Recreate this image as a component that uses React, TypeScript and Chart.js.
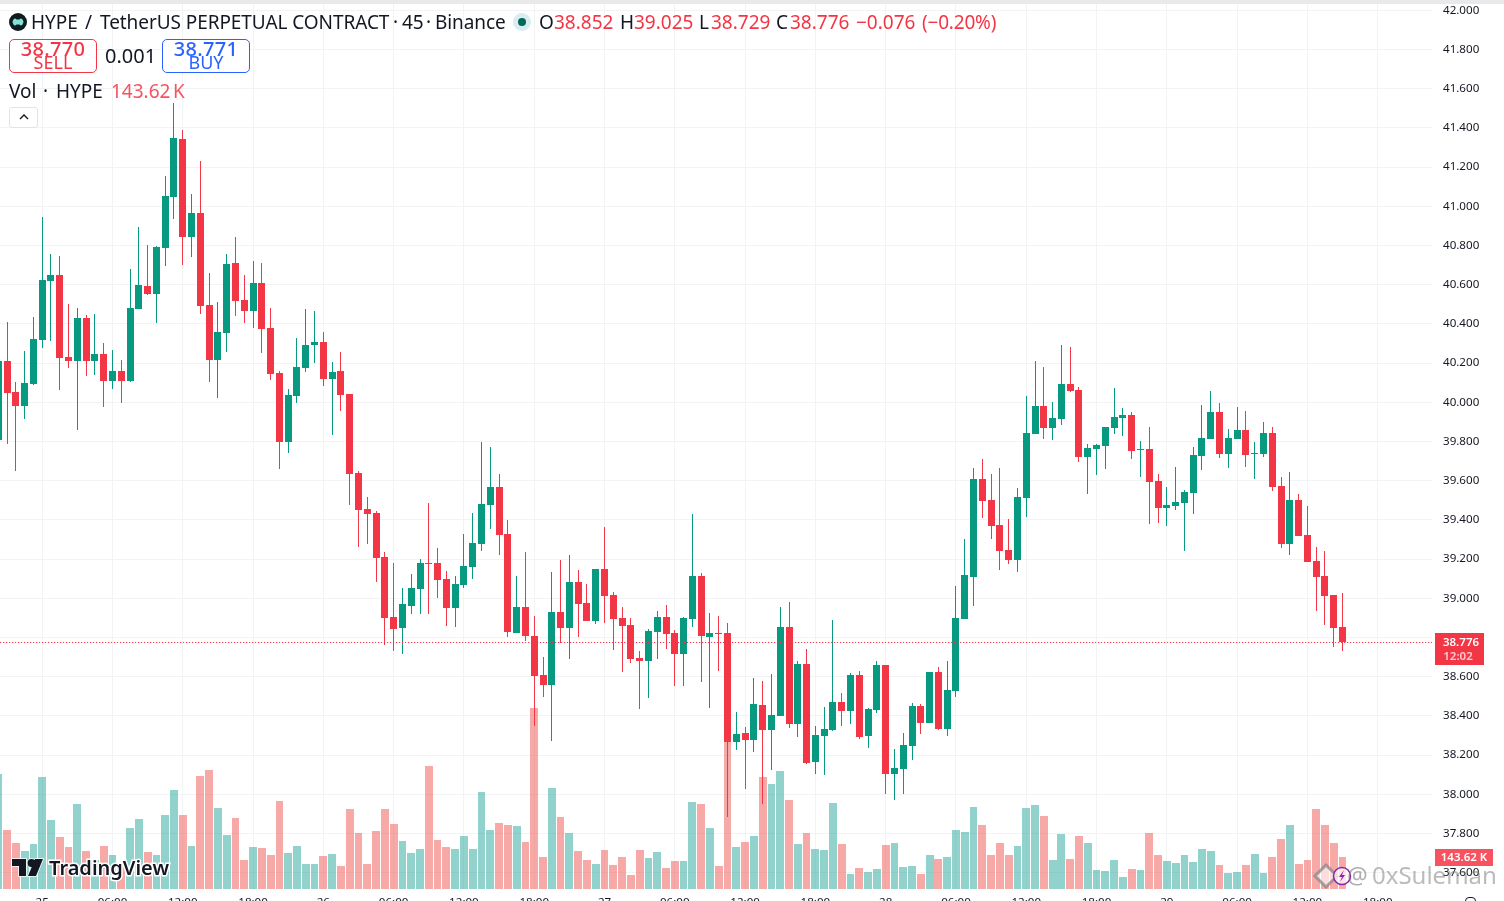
import { useEffect, useRef } from "react";
import { Chart, registerables } from "chart.js";

Chart.register(...registerables);

// 45 minute candles, index 0 is the partly hidden bar on the left edge
const opens = [
  39.808, 40.211, 40.053, 39.981, 40.093, 40.318, 40.619, 40.649, 40.231, 40.211,
  40.43, 40.211, 40.246, 40.109, 40.16, 40.109, 40.476, 40.593, 40.552, 40.787,
  41.047, 41.343, 40.843, 40.966, 40.496, 40.216, 40.354, 40.711, 40.522, 40.466,
  40.609, 40.379, 40.15, 39.798, 40.032, 40.175, 40.292, 40.308, 40.119, 40.16,
  40.042, 39.639, 39.456, 39.435, 39.211, 38.905, 38.849, 38.961, 39.048, 39.18,
  39.18, 39.099, 38.951, 39.068, 39.16, 39.277, 39.476, 39.568, 39.328, 38.823,
  38.956, 38.808, 38.609, 38.558, 38.93, 38.849, 39.083, 38.976, 38.884, 39.15,
  39.017, 38.9, 38.864, 38.695, 38.68, 38.828, 38.905, 38.823, 38.716, 38.895,
  39.114, 38.803, 38.823, 38.823, 38.267, 38.313, 38.277, 38.456, 38.328, 38.4,
  38.854, 38.359, 38.665, 38.165, 38.298, 38.328, 38.471, 38.425, 38.609, 38.298,
  38.43, 38.66, 38.104, 38.129, 38.246, 38.451, 38.364, 38.624, 38.333, 38.527,
  38.895, 39.109, 39.609, 39.502, 39.374, 39.247, 39.195, 39.512, 39.838, 39.981,
  39.869, 39.915, 40.093, 40.063, 39.721, 39.762, 39.777, 39.869, 39.92, 39.935,
  39.757, 39.762, 39.598, 39.461, 39.471, 39.486, 39.537, 39.726, 39.813, 39.951,
  39.736, 39.813, 39.859, 39.736, 39.736, 39.843, 39.573, 39.277, 39.502, 39.323,
  39.19, 39.114, 39.017, 38.852,
];
const highs = [
  40.292, 40.41, 40.104, 40.262, 40.435, 40.945, 40.757, 40.747, 40.501, 40.481,
  40.445, 40.45, 40.303, 40.267, 40.216, 40.68, 40.894, 40.803, 40.798, 41.155,
  41.527, 41.389, 41.063, 41.231, 40.66, 40.512, 40.757, 40.843, 40.649, 40.721,
  40.711, 40.481, 40.16, 40.068, 40.328, 40.476, 40.466, 40.359, 40.206, 40.257,
  40.042, 39.649, 39.517, 39.445, 39.236, 39.18, 39.053, 39.124, 39.201, 39.486,
  39.257, 39.139, 39.114, 39.328, 39.435, 39.798, 39.772, 39.634, 39.4, 39.114,
  39.236, 38.91, 38.701, 39.134, 39.195, 39.221, 39.145, 39.073, 39.15, 39.364,
  39.032, 38.956, 38.9, 38.731, 38.843, 38.935, 38.966, 38.838, 38.905, 39.43,
  39.129, 38.925, 38.91, 38.874, 38.42, 38.344, 38.593, 38.578, 38.614, 38.956,
  38.981, 38.68, 38.741, 38.349, 38.445, 38.889, 38.517, 38.619, 38.629, 38.44,
  38.68, 38.66, 38.231, 38.313, 38.466, 38.461, 38.624, 38.65, 38.68, 39.063,
  39.303, 39.665, 39.711, 39.634, 39.665, 39.405, 39.563, 40.032, 40.211, 40.18,
  40.002, 40.292, 40.282, 40.078, 39.787, 39.787, 39.874, 40.073, 39.971, 39.951,
  39.803, 39.874, 39.634, 39.568, 39.67, 39.553, 39.772, 39.986, 40.058, 39.996,
  39.864, 39.976, 39.956, 39.798, 39.899, 39.874, 39.619, 39.644, 39.532, 39.471,
  39.262, 39.241, 39.017, 39.025,
];
const lows = [
  39.782, 39.787, 39.649, 39.915, 40.088, 40.277, 40.313, 40.063, 40.175, 39.859,
  40.134, 40.139, 39.976, 40.068, 39.996, 40.104, 40.476, 40.547, 40.405, 40.696,
  40.935, 40.701, 40.741, 40.45, 40.104, 40.022, 40.257, 40.44, 40.405, 40.379,
  40.252, 40.114, 39.66, 39.741, 39.996, 40.155, 40.2, 40.083, 39.833, 39.956,
  39.476, 39.262, 39.277, 39.083, 38.762, 38.731, 38.716, 38.92, 38.92, 38.92,
  39.002, 38.859, 38.854, 39.053, 39.099, 39.241, 39.354, 39.221, 38.803, 38.823,
  38.782, 38.349, 38.497, 38.272, 38.772, 38.69, 38.803, 38.884, 38.869, 38.874,
  38.736, 38.624, 38.67, 38.435, 38.491, 38.69, 38.741, 38.553, 38.553, 38.854,
  38.573, 38.44, 38.629, 37.884, 38.226, 38.027, 38.216, 37.95, 38.124, 38.4,
  38.338, 38.292, 38.155, 38.104, 38.099, 38.323, 38.349, 38.359, 38.282, 38.236,
  38.415, 38.002, 37.971, 38.002, 38.175, 38.308, 38.364, 38.328, 38.298, 38.497,
  38.895, 38.961, 39.41, 39.303, 39.145, 39.175, 39.134, 39.415, 39.838, 39.813,
  39.808, 39.884, 40.053, 39.695, 39.532, 39.629, 39.66, 39.838, 39.828, 39.711,
  39.619, 39.379, 39.384, 39.369, 39.451, 39.241, 39.43, 39.655, 39.813, 39.716,
  39.665, 39.813, 39.67, 39.609, 39.721, 39.548, 39.257, 39.221, 39.318, 39.185,
  38.935, 38.864, 38.752, 38.729,
];
const closes = [
  40.211, 40.048, 39.981, 40.098, 40.323, 40.624, 40.649, 40.226, 40.211, 40.43,
  40.211, 40.246, 40.109, 40.16, 40.109, 40.481, 40.598, 40.552, 40.792, 41.053,
  41.348, 40.843, 40.966, 40.491, 40.216, 40.359, 40.706, 40.517, 40.466, 40.609,
  40.374, 40.144, 39.798, 40.037, 40.18, 40.292, 40.308, 40.119, 40.155, 40.037,
  39.634, 39.451, 39.43, 39.206, 38.9, 38.843, 38.971, 39.053, 39.18, 39.175,
  39.093, 38.951, 39.073, 39.165, 39.282, 39.481, 39.568, 39.323, 38.828, 38.956,
  38.808, 38.604, 38.558, 38.93, 38.849, 39.083, 38.971, 38.884, 39.15, 39.012,
  38.895, 38.859, 38.69, 38.68, 38.833, 38.905, 38.818, 38.716, 38.9, 39.114,
  38.808, 38.823, 38.818, 38.267, 38.308, 38.277, 38.461, 38.328, 38.405, 38.854,
  38.359, 38.665, 38.16, 38.303, 38.333, 38.471, 38.425, 38.609, 38.292, 38.435,
  38.66, 38.104, 38.134, 38.252, 38.451, 38.364, 38.624, 38.333, 38.532, 38.9,
  39.119, 39.609, 39.497, 39.369, 39.241, 39.195, 39.517, 39.843, 39.981, 39.869,
  39.92, 40.093, 40.058, 39.721, 39.767, 39.782, 39.874, 39.925, 39.935, 39.752,
  39.762, 39.593, 39.461, 39.476, 39.491, 39.542, 39.731, 39.818, 39.951, 39.736,
  39.818, 39.859, 39.731, 39.741, 39.843, 39.568, 39.277, 39.502, 39.318, 39.185,
  39.109, 39.012, 38.849, 38.776,
];
// volume in thousands of HYPE
const volumes = [
  516, 265, 206, 171, 202, 503, 310, 233, 188, 381,
  171, 130, 193, 153, 112, 274, 314, 166, 153, 332,
  444, 332, 193, 507, 534, 364, 242, 319, 130, 188,
  184, 153, 395, 162, 193, 112, 112, 148, 157, 103,
  359, 251, 112, 260, 359, 292, 215, 162, 180, 552,
  220, 188, 180, 238, 180, 435, 265, 296, 287, 283,
  211, 812, 144, 453, 323, 251, 171, 130, 112, 175,
  108, 144, 63, 175, 139, 166, 94, 126, 126, 390,
  381, 274, 103, 992, 188, 211, 238, 503, 471, 530,
  399, 202, 251, 180, 175, 386, 202, 67, 94, 76,
  90, 197, 206, 99, 103, 67, 153, 135, 144, 265,
  256, 368, 287, 153, 206, 153, 193, 364, 377, 328,
  130, 247, 135, 238, 206, 85, 81, 130, 54, 90,
  85, 251, 153, 126, 117, 153, 121, 180, 171, 108,
  72, 76, 108, 157, 72, 144, 224, 287, 112, 130,
  359, 287, 206, 143.62,
];
const priceTicks = [
  37.6, 37.8, 38, 38.2, 38.4, 38.6, 38.8, 39, 39.2, 39.4, 39.6, 39.8, 40, 40.2,
  40.4, 40.6, 40.8, 41, 41.2, 41.4, 41.6, 41.8, 42,
];
const timeTickBars = [5, 13, 21, 29, 37, 45, 53, 61, 69, 77, 85, 93, 101, 109, 117, 125, 133, 141, 149, 157];
const timeTickLabels = [
  "25", "06:00", "12:00", "18:00", "26", "06:00", "12:00", "18:00", "27", "06:00",
  "12:00", "18:00", "28", "06:00", "12:00", "18:00", "29", "06:00", "12:00", "18:00",
];

const lastPrice = 38.776;
const lastVolume = 143.62;

const UP = "#089981";
const DOWN = "#f23645";
const UP_VOL = "rgba(38,166,154,0.5)";
const DOWN_VOL = "rgba(239,83,80,0.5)";
const FONT = '"Noto Sans", sans-serif';
const INK = "#131722";

const isDown = (i: number) => closes[i] < opens[i];

// TradingView draws on whole pixels, Chart.js does not
const snapBars = {
  id: "snapBars",
  afterDatasetsUpdate(chart: any) {
    chart.data.datasets.forEach((ds: any, d: number) => {
      chart.getDatasetMeta(d).data.forEach((el: any) => {
        if (ds.label === "volume") {
          const l = Math.round(el.x - 3.9);
          const r = Math.round(el.x + 3.9);
          el.x = (l + r) / 2;
          el.width = r - l;
          el.y = Math.round(el.y);
        } else {
          el.x = Math.floor(el.x) + 0.5;
          const y = Math.round(el.y);
          let base = Math.round(el.base);
          if (base === y) base = y + 1;
          el.y = y;
          el.base = base;
        }
      });
    });
  },
};

const lastMarks = {
  id: "lastMarks",
  afterDraw(chart: any) {
    const { ctx, chartArea, scales } = chart;
    const py = Math.round(scales.y.getPixelForValue(lastPrice));
    const vy = Math.round(scales.y2.getPixelForValue(lastVolume));
    ctx.save();
    ctx.strokeStyle = DOWN;
    ctx.lineWidth = 1;
    ctx.setLineDash([1.2, 1.8]);
    ctx.beginPath();
    ctx.moveTo(chartArea.left, py + 0.5);
    ctx.lineTo(chartArea.right, py + 0.5);
    ctx.stroke();
    ctx.setLineDash([]);

    ctx.fillStyle = DOWN;
    ctx.fillRect(1435, py - 9, 49, 32);
    ctx.textAlign = "center";
    ctx.textBaseline = "middle";
    ctx.font = `600 11.5px ${FONT}`;
    ctx.fillStyle = "#fff";
    ctx.fillText(lastPrice.toFixed(3), 1461, py + 0.5);
    ctx.fillStyle = "rgba(255,255,255,0.75)";
    ctx.fillText("12:02", 1458, py + 15);

    ctx.fillStyle = "#f7525f";
    ctx.fillRect(1435, vy - 8, 58, 17);
    ctx.fillStyle = "#fff";
    ctx.fillText("143.62 K", 1464, vy + 0.5);
    ctx.restore();
  },
};

const text = (
  left: number,
  top: number,
  size: number,
  color: string,
  content: string,
  extra: any = {},
) => (
  <span
    style={{
      position: "absolute",
      left,
      top: top - size * 0.7,
      fontSize: size,
      lineHeight: `${size * 1.4}px`,
      color,
      whiteSpace: "pre",
      ...extra,
    }}
  >
    {content}
  </span>
);

const box = (left: number, color: string, price: string, side: string) => (
  <div
    style={{
      position: "absolute",
      left,
      top: 39,
      width: 86,
      height: 32,
      border: `1px solid ${color}`,
      borderRadius: 5,
      background: "#fff",
    }}
  >
    {text(0, 9, 20, color, price, { width: 86, textAlign: "center", letterSpacing: 0.3, fontWeight: 500 })}
    {text(0, 23, 18, color, side, { width: 86, textAlign: "center" })}
  </div>
);

const App = () => {
  const canvasRef = useRef<HTMLCanvasElement>(null);

  useEffect(() => {
    if (!canvasRef.current) return;
    const ctx = canvasRef.current.getContext("2d");
    const tickFont = { family: FONT, size: 11.6 };

    const chart = new Chart(ctx!, {
      type: "bar",
      data: {
        datasets: [
          {
            label: "body",
            data: opens.map((o, i) => ({ x: i, y: [o, closes[i]] })),
            backgroundColor: opens.map((_, i) => (isDown(i) ? DOWN : UP)),
            barThickness: 7,
            grouped: false,
            inflateAmount: 0,
            order: 1,
            yAxisID: "y",
          },
          {
            label: "wick",
            data: highs.map((h, i) => ({ x: i, y: [lows[i], h] })),
            backgroundColor: highs.map((_, i) => (isDown(i) ? DOWN : UP)),
            barThickness: 1,
            grouped: false,
            inflateAmount: 0,
            order: 2,
            yAxisID: "y",
          },
          {
            label: "volume",
            data: volumes.map((v, i) => ({ x: i, y: v })),
            backgroundColor: volumes.map((_, i) => (isDown(i) ? DOWN_VOL : UP_VOL)),
            barThickness: 8,
            grouped: false,
            inflateAmount: 0,
            order: 3,
            yAxisID: "y2",
          },
        ],
      } as any,
      options: {
        responsive: false,
        animation: false,
        events: [],
        layout: { padding: 0 },
        plugins: { legend: { display: false }, tooltip: { enabled: false } },
        scales: {
          x: {
            type: "linear",
            offset: false,
            min: 0.197,
            max: 163.18,
            grid: { color: "#f2f3f5", offset: false, drawTicks: false },
            border: { display: false },
            afterBuildTicks: (axis: any) => {
              axis.ticks = timeTickBars.map((value) => ({ value }));
            },
            afterFit: (axis: any) => {
              axis.height = 12;
              axis.paddingLeft = 0;
              axis.paddingRight = 0;
            },
            ticks: {
              autoSkip: false,
              maxRotation: 0,
              padding: 7,
              color: INK,
              font: tickFont,
              callback: (_v: any, index: number) => timeTickLabels[index],
            },
          },
          y: {
            position: "right",
            min: 37.5169,
            max: 42.0526,
            grid: { color: "#f2f3f5", drawTicks: false },
            border: { display: false },
            afterBuildTicks: (axis: any) => {
              axis.ticks = priceTicks.map((value) => ({ value }));
            },
            afterFit: (axis: any) => {
              axis.width = 72;
              axis.paddingTop = 0;
              axis.paddingBottom = 0;
            },
            ticks: {
              autoSkip: false,
              padding: 11,
              color: INK,
              font: tickFont,
              callback: (v: any) => Number(v).toFixed(3),
            },
          },
          y2: { display: false, min: 0, max: 3990 },
        },
      } as any,
      plugins: [snapBars, lastMarks],
    });

    return () => {
      chart.destroy();
    };
  }, []);

  return (
    <div
      style={{
        position: "fixed",
        inset: 0,
        overflow: "hidden",
        background: "#fff",
        fontFamily: FONT,
      }}
    >
      <canvas
        ref={canvasRef}
        width={1504}
        height={901}
        style={{ position: "absolute", left: 0, top: 0, display: "block" }}
      />
      <div style={{ position: "absolute", left: 0, top: 0, width: 1504, height: 4, background: "#e9e9e9" }} />

      {/* legend */}
      <svg style={{ position: "absolute", left: 9, top: 13 }} width={18} height={18}>
        <circle cx={9} cy={9} r={9} fill="#0f1b1f" />
        <path d="M3.5 9c1-4 3-4 4-2.5h3c1-1.5 3-1.5 4 2.5-1 4-3 4-4 2.5h-3c-1 1.500-3 1.500-4-2.500z" fill="#7fe3d3" />
      </svg>
      {text(31, 22, 19, INK, "HYPE")}
      {text(85, 22, 19, INK, "/")}
      {text(100, 22, 19, INK, "TetherUS PERPETUAL CONTRACT", { letterSpacing: -0.07 })}
      {text(393, 22, 19, INK, "·")}
      {text(402, 22, 19, INK, "45")}
      {text(426, 22, 19, INK, "·")}
      {text(435, 22, 19, INK, "Binance", { letterSpacing: -0.1 })}
      <svg style={{ position: "absolute", left: 513, top: 13 }} width={18} height={18}>
        <circle cx={9} cy={9} r={9} fill="#d9ecef" />
        <circle cx={9} cy={9} r={4} fill="#00695c" />
      </svg>
      {text(539, 22, 19, INK, "O")}
      {text(554, 22, 19, DOWN, "38.852")}
      {text(620, 22, 19, INK, "H")}
      {text(634, 22, 19, DOWN, "39.025")}
      {text(699, 22, 19, INK, "L")}
      {text(711, 22, 19, DOWN, "38.729")}
      {text(776, 22, 19, INK, "C")}
      {text(790, 22, 19, DOWN, "38.776")}
      {text(856, 22, 19, DOWN, "−0.076")}
      {text(922, 22, 19, DOWN, "(−0.20%)", { letterSpacing: -0.2 })}
      {box(9, DOWN, "38.770", "SELL")}
      {text(105, 56, 20, INK, "0.001")}
      {box(162, "#2962ff", "38.771", "BUY")}
      {text(9, 91, 19, INK, "Vol")}
      {text(43, 91, 19, INK, "·")}
      {text(56, 91, 19, INK, "HYPE")}
      {text(111, 91, 19, "#f7525f", "143.62")}
      {text(173, 91, 19, "#f7525f", "K")}
      <div
        style={{
          position: "absolute",
          left: 9,
          top: 107,
          width: 27,
          height: 19,
          border: "1px solid #e0e3eb",
          borderRadius: 3,
          background: "#fff",
        }}
      >
        <svg style={{ position: "absolute", left: 9, top: 5 }} width={10} height={8}>
          <path d="M1 6l4-4 4 4" fill="none" stroke={INK} strokeWidth={1.4} />
        </svg>
      </div>

      {/* TradingView mark */}
      <svg style={{ position: "absolute", left: 10, top: 857 }} width={36} height={21}>
        <path
          d="M2 2h14v17H9V9H2zM21.500 2a4 4 0 1 1 0 8 4 4 0 0 1 0-8zM25 2h8l-7 17h-8z"
          fill="#131722"
          stroke="#fff"
          strokeWidth={1.500}
          paintOrder="stroke"
        />
      </svg>
      {text(49, 868, 20, "#131722", "TradingView", {
        fontWeight: 600,
        letterSpacing: 0,
        WebkitTextStroke: "3px #fff",
        paintOrder: "stroke fill",
      })}

      {/* repost watermark */}
      <svg style={{ position: "absolute", left: 1312, top: 862 }} width={42} height={28}>
        <path
          d="M14 3l11 11-11 11L3 14z"
          fill="rgba(255,255,255,0.6)"
          stroke="rgba(130,130,130,0.7)"
          strokeWidth={3}
        />
        <circle cx={30} cy={14} r={8.500} fill="rgba(255,255,255,0.7)" stroke="#8e24aa" strokeWidth={1.500} />
        <path d="M32 8l-5 7h3l-2 5 5-7h-3z" fill="#8e24aa" />
      </svg>
      {text(1347, 875, 23, "rgba(120,120,120,0.6)", "@")}
      {text(1372, 875, 24, "rgba(120,120,120,0.5)", "0xSuleman")}
      <div
        style={{
          position: "absolute",
          left: 1465,
          top: 897,
          width: 9,
          height: 9,
          border: `1.5px solid ${INK}`,
          borderRadius: 4,
        }}
      />
    </div>
  );
};

export default App;
